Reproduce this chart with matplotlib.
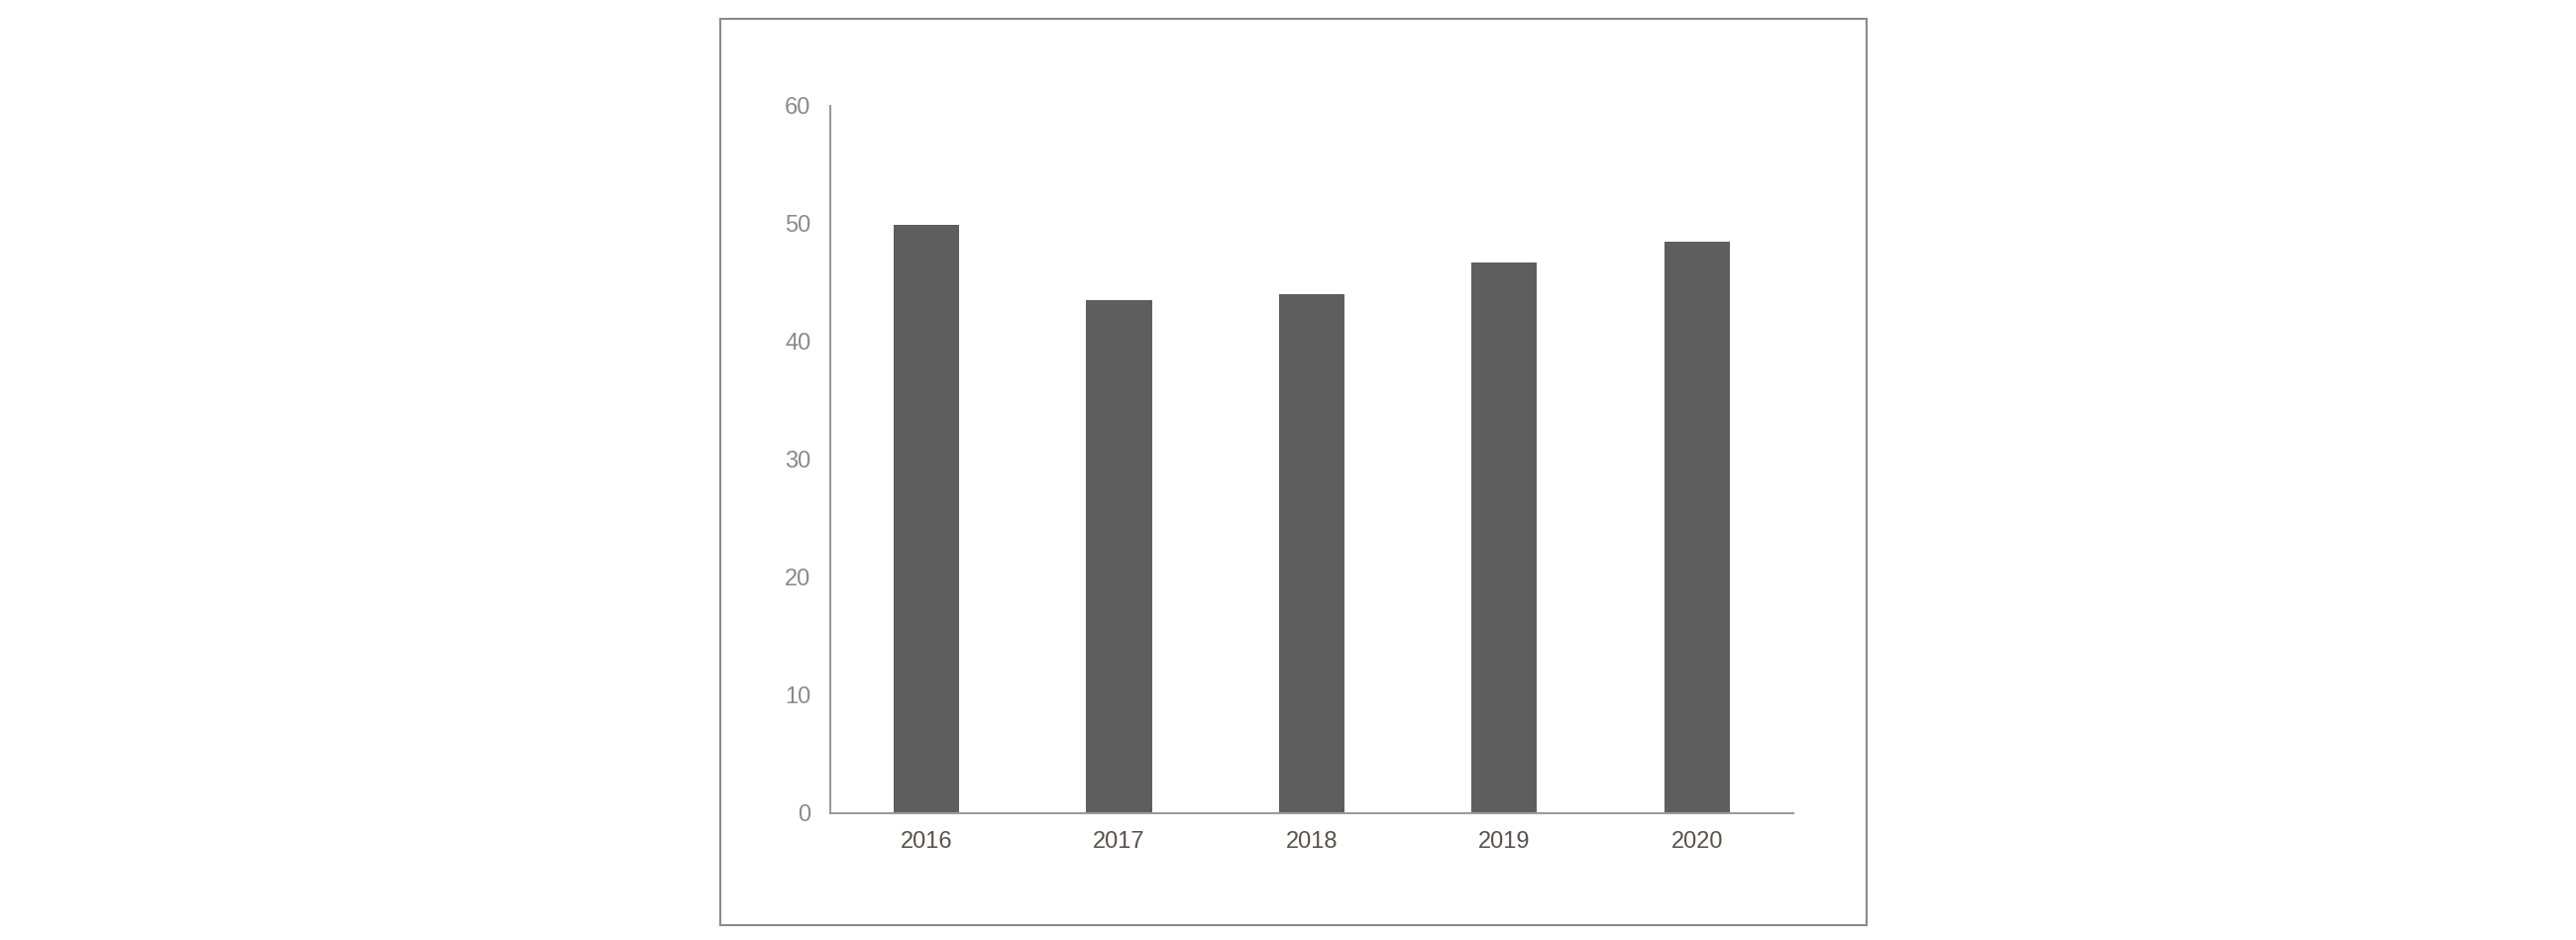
import matplotlib
matplotlib.use('Agg')
import matplotlib.pyplot as plt
from matplotlib.patches import Rectangle

# data
years = ['2016', '2017', '2018', '2019', '2020']
values = [49.9, 43.5, 44.0, 46.7, 48.5]
yticks = [0, 10, 20, 30, 40, 50, 60]

plt.rcParams['font.family'] = ['Liberation Sans', 'DejaVu Sans']

fig = plt.figure(figsize=(26, 9.49), dpi=100)

# outer frame around the chart
frame = Rectangle((0.2795, 0.0158), 0.4451, 0.9642, transform=fig.transFigure,
                  fill=False, edgecolor='#8a8a8a', linewidth=1.5)
fig.patches.append(frame)

ax = fig.add_axes([0.3222, 0.1352, 0.374, 0.7521])
ax.bar(range(len(years)), values, width=0.34, color='#5e5e5e')

ax.set_xlim(-0.5, len(years) - 0.5)
ax.set_ylim(0, 60)
ax.set_yticks(yticks)
ax.set_xticks(range(len(years)))
ax.set_xticklabels(years)

for side in ['top', 'right']:
    ax.spines[side].set_visible(False)
for side in ['left', 'bottom']:
    ax.spines[side].set_color('#9a9a9a')
    ax.spines[side].set_linewidth(1.5)

ax.tick_params(axis='y', length=0, pad=14, labelsize=17, labelcolor='#8a8a8a')
ax.tick_params(axis='x', length=0, pad=13, labelsize=17, labelcolor='#5a514c')

plt.savefig('out.png', dpi=100)
